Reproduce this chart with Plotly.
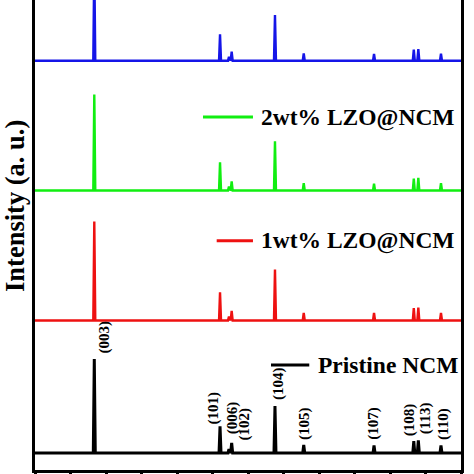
import plotly.graph_objects as go

# ---- data ----
hkl = ["(003)", "(101)", "(006)", "(102)", "(104)", "(105)", "(107)", "(108)", "(113)", "(110)"]
two_theta = [18.35, 36.06, 37.32, 37.70, 43.80, 47.85, 57.75, 63.35, 63.99, 67.18]

pristine = [94, 26.6, 4, 10, 47, 8, 7.5, 12, 12.6, 7.6]
lzo_1wt = [99, 28.3, 4, 9.7, 51, 7.7, 7.7, 12.3, 13, 7.7]
lzo_2wt = [96, 28.3, 4, 9, 49.3, 7.3, 6.7, 12, 12.7, 7.3]
lzo_3wt = [98, 26.4, 4, 9, 45.7, 7.4, 6.7, 11, 11.7, 7]

series_names = ["Pristine NCM", "1wt% LZO@NCM", "2wt% LZO@NCM", ""]
offsets = [0, 132.5, 262.5, 392.3]

label_2theta = [19.72, 35.0, 37.75, 39.44, 44.2, 47.85, 57.7, 62.77, 65.0, 67.5]
label_base = [97, 26.5, 16.3, 10, 51.3, 11.3, 11.3, 15, 16.3, 11.3]

x_ticks = [10, 15, 20, 25, 30, 35, 40, 45, 50, 55, 60, 65, 70]

# ---- styles ----
colors = ["#000000", "#ee1111", "#11ee11", "#1515e8"]
widths = [3, 2.4, 2.4, 2.4]
SERIF = "Liberation Serif"
HW = 0.14  # half-width of a peak spike in degrees


def pattern(heights, off):
    xs, ys = [10], [off]
    for p, h in zip(two_theta, heights):
        xs += [p - HW, p, p + HW]
        ys += [off, off + h, off]
    xs.append(70)
    ys.append(off)
    return xs, ys


fig = go.Figure()
for data, off, col, w in zip([pristine, lzo_1wt, lzo_2wt, lzo_3wt], offsets, colors, widths):
    xs, ys = pattern(data, off)
    fig.add_trace(go.Scatter(x=xs, y=ys, mode="lines", line=dict(color=col, width=w),
                             showlegend=False, hoverinfo="skip"))

# legend-like labels (line + text)
legend_items = [
    (0, 43.24, 48.63, 88),
    (1, 35.59, 40.70, 212.3),
    (2, 33.66, 40.70, 336),
]
for idx, x0, x1, yv in legend_items:
    fig.add_shape(type="line", x0=x0, x1=x1, y0=yv, y1=yv, xref="x", yref="y",
                  line=dict(color=colors[idx], width=3))
    fig.add_annotation(x=x1 + 0.9, y=yv, xref="x", yref="y", text=series_names[idx],
                       showarrow=False, xanchor="left", yanchor="middle",
                       font=dict(family=SERIF, size=23.5, color="black", weight="bold"))

# peak labels
for lab, lx, lb in zip(hkl, label_2theta, label_base):
    fig.add_annotation(x=lx, y=lb, xref="x", yref="y", text=lab, showarrow=False,
                       textangle=-90, xanchor="center", yanchor="bottom",
                       font=dict(family=SERIF, size=15, color="black", weight="bold"))

# y-axis title
fig.add_annotation(x=-0.047, y=247, xref="paper", yref="y", text="Intensity (a. u.)",
                   showarrow=False, textangle=-90, xanchor="center", yanchor="middle",
                   font=dict(family=SERIF, size=26.5, color="black", weight="bold"))

fig.update_layout(
    width=474, height=474, autosize=False,
    margin=dict(l=35, r=13, t=0, b=4, pad=0),
    paper_bgcolor="white", plot_bgcolor="white",
    xaxis=dict(range=[10, 70], tickvals=x_ticks, showticklabels=False, ticks="outside",
               ticklen=5, tickwidth=2.5, tickcolor="black", showline=True, linecolor="black",
               linewidth=3, mirror=False, showgrid=False, zeroline=False),
    yaxis=dict(range=[-17, 453], showticklabels=False, ticks="", showline=True,
               linecolor="black", linewidth=3, mirror=True, showgrid=False, zeroline=False),
)

fig.write_html("out.html")
